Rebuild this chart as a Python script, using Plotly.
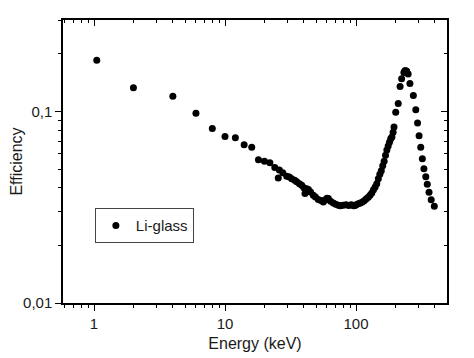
import plotly.graph_objects as go

energy = [1.05, 2, 4, 6, 8, 10, 12, 14, 16, 18, 20, 22, 24,
          25.5, 26, 27.6, 29.6, 31, 32.3, 34, 35.3, 37, 38.5, 40, 40.8, 42, 43.3, 45,
          47.2, 49, 51.5, 54, 56.3, 58, 60, 61.5, 64, 67.1, 70, 73.3, 76, 80, 84, 88,
          92, 96, 98, 100, 104, 108, 112, 116, 120, 124, 128, 132, 136, 140, 144, 148,
          152, 156, 160, 164, 168, 172, 176, 180, 184, 188, 192, 195, 201, 210, 217,
          223, 232, 236, 240, 244, 250, 258, 274, 286, 295, 303, 312, 321, 330, 341,
          350, 361, 375, 396]
efficiency = [0.185, 0.133, 0.12, 0.098, 0.0815, 0.074, 0.073, 0.067, 0.065, 0.056, 0.055, 0.054, 0.051,
              0.045, 0.0495, 0.0478, 0.0459, 0.0455, 0.0446, 0.0437, 0.0429, 0.042, 0.0412, 0.040, 0.0373, 0.0395, 0.0391, 0.038,
              0.0365, 0.0358, 0.0347, 0.0343, 0.0337, 0.0345, 0.0352, 0.0351, 0.034, 0.0333, 0.0328, 0.0324, 0.0322, 0.0324, 0.0326, 0.0323,
              0.0326, 0.0322, 0.0324, 0.0325, 0.033, 0.0333, 0.0337, 0.0343, 0.035, 0.0357, 0.0365, 0.0375, 0.039, 0.0403, 0.042, 0.0445,
              0.047, 0.049, 0.052, 0.055, 0.059, 0.063, 0.066, 0.069, 0.072, 0.0735, 0.078, 0.083, 0.099, 0.11, 0.135,
              0.148, 0.160, 0.163, 0.163, 0.162, 0.157, 0.14, 0.121, 0.102, 0.087, 0.0747, 0.065, 0.0567, 0.0503, 0.0456,
              0.0417, 0.0379, 0.0346, 0.032]

x_ticks = [1, 10, 100]
x_ticktext = ["1", "10", "100"]
y_ticks = [0.01, 0.1]
y_ticktext = ["0,01", "0,1"]

FONT = "Liberation Sans, Arial, sans-serif"
TXT = "#1a1a1a"

fig = go.Figure()
fig.add_trace(go.Scatter(x=energy, y=efficiency, mode="markers", name="Li-glass",
                         marker=dict(color="black", size=7)))
fig.add_trace(go.Scatter(x=energy, y=efficiency, mode="markers", xaxis="x2", yaxis="y2",
                         marker=dict(color="rgba(0,0,0,0)", size=1), showlegend=False,
                         hoverinfo="skip"))

xr = [-0.2366, 2.6946]
yr = [-2, -0.5224]

common_x = dict(type="log", range=xr, showgrid=False, zeroline=False, automargin=False,
                linecolor="black", linewidth=1.5, tickcolor="black", tickwidth=1.2)
common_y = dict(type="log", range=yr, showgrid=False, zeroline=False, automargin=False,
                linecolor="black", linewidth=1.5, tickcolor="black", tickwidth=1.2)

# page body has an 8px default margin; figure is sized to sit inside the 474x358 window
fig.update_layout(
    width=466, height=350,
    margin=dict(l=55, r=27, t=12, b=55),
    paper_bgcolor="white", plot_bgcolor="white",
    font=dict(family=FONT, color=TXT, size=14),
    showlegend=True,
    legend=dict(x=0.083, y=0.335, xanchor="left", yanchor="top",
                bordercolor="#444", borderwidth=1, bgcolor="white",
                font=dict(size=15, color=TXT), itemwidth=30,
                tracegroupgap=0),
    xaxis=dict(**common_x, ticks="outside", ticklen=6,
               tickmode="array", tickvals=x_ticks, ticktext=x_ticktext,
               tickfont=dict(size=15),
               minor=dict(ticks="outside", ticklen=3, dtick="D1", tickcolor="black", tickwidth=1),
               title=dict(text="Energy (keV)", font=dict(size=16), standoff=7)),
    yaxis=dict(**common_y, ticks="outside", ticklen=6,
               tickmode="array", tickvals=y_ticks, ticktext=y_ticktext,
               tickfont=dict(size=15),
               minor=dict(ticks="outside", ticklen=3, dtick="D1", tickcolor="black", tickwidth=1),
               title=dict(text="Efficiency", font=dict(size=16), standoff=4)),
    xaxis2=dict(**common_x, overlaying="x", side="top", anchor="y2", ticks="inside", ticklen=6,
                tickmode="array", tickvals=x_ticks, showticklabels=False,
                minor=dict(ticks="inside", ticklen=3, dtick="D1", tickcolor="black", tickwidth=1)),
    yaxis2=dict(**common_y, overlaying="y", side="right", anchor="x2", ticks="inside", ticklen=6,
                tickmode="array", tickvals=y_ticks, showticklabels=False,
                minor=dict(ticks="inside", ticklen=3, dtick="D1", tickcolor="black", tickwidth=1)),
)

fig.write_html("out.html")
